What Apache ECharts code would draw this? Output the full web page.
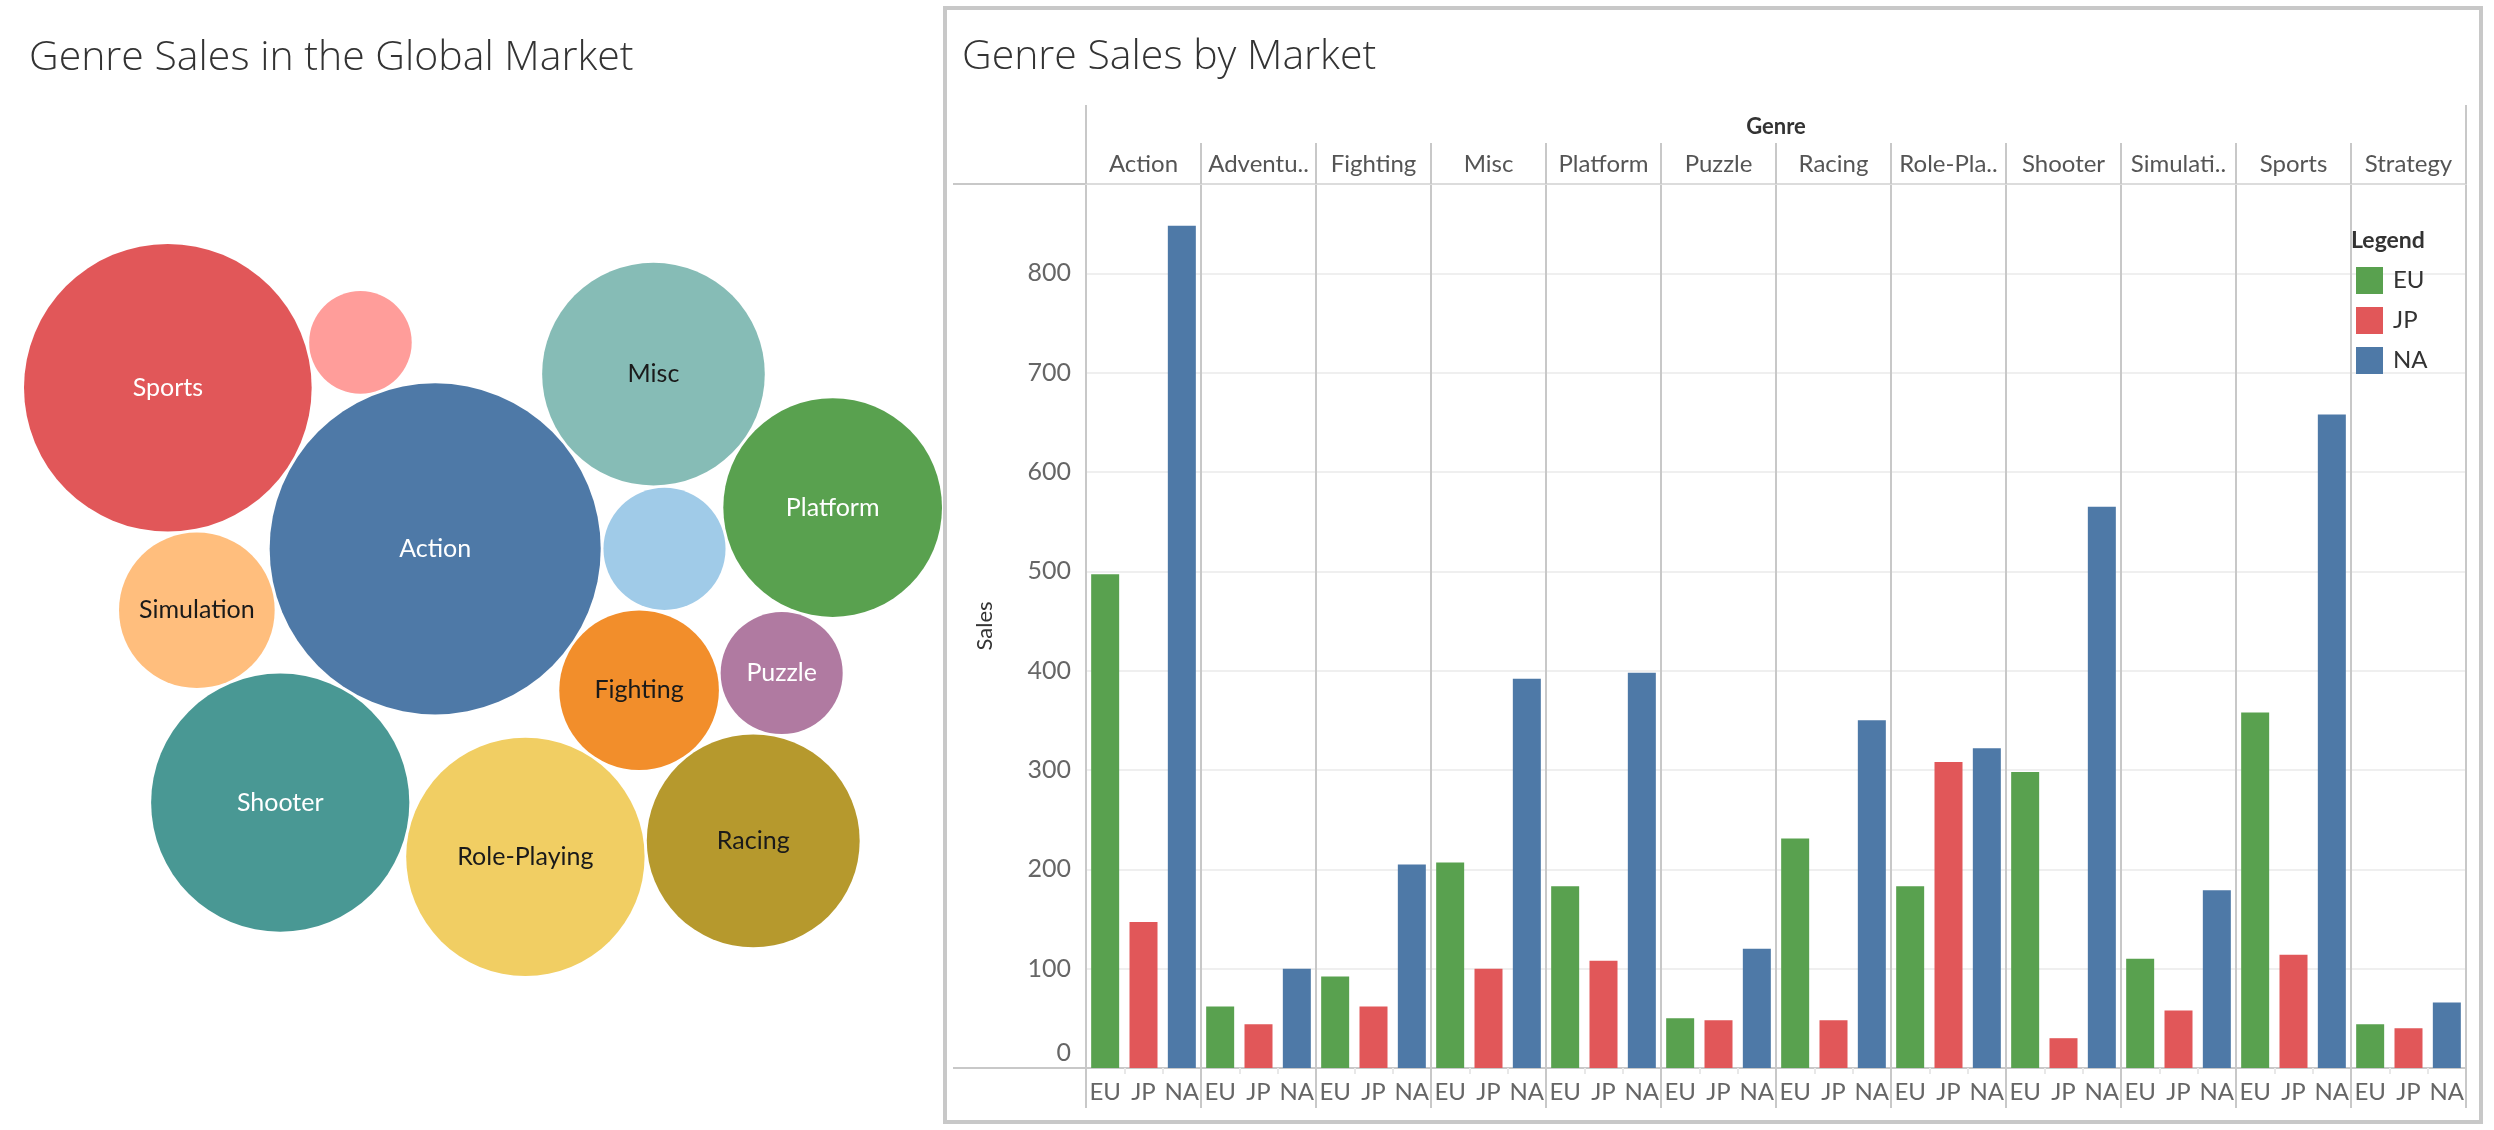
<!DOCTYPE html>
<html>
<head>
<meta charset="utf-8">
<script src="https://cdn.jsdelivr.net/npm/echarts@6/dist/echarts.min.js"></script>
<style>
html,body{margin:0;padding:0;background:#fff;}
#chart{width:2494px;height:1130px;}
</style>
</head>
<body>
<div id="chart"></div>
<script>
// ---------------- data ----------------
const genres = ['Action','Adventure','Fighting','Misc','Platform','Puzzle','Racing','Role-Playing','Shooter','Simulation','Sports','Strategy'];
const markets = ['EU','JP','NA'];
const euSales = [497, 62, 92, 207, 183, 50, 231, 183, 298, 110, 358, 44];
const jpSales = [147, 44, 62, 100, 108, 48, 48, 308, 30, 58, 114, 40];
const naSales = [848, 100, 205, 392, 398, 120, 350, 322, 565, 179, 658, 66];
const globalSales = [1751, 238, 407, 792, 764, 238, 724, 908, 1065, 387, 1322, 168];
const salesAxisMax = 890;
const salesAxisStep = 100;

// ---------------- styles ----------------
const FONT = 'Lato, "Open Sans", sans-serif';
const TITLE_FONT = '"Open Sans", Lato, sans-serif';
const genreColors = {
  'Action':'#4E79A7','Adventure':'#A0CBE8','Fighting':'#F28E2B','Misc':'#86BCB6',
  'Platform':'#59A14F','Puzzle':'#B07AA1','Racing':'#B6992D','Role-Playing':'#F1CE63',
  'Shooter':'#499894','Simulation':'#FFBE7D','Sports':'#E15759','Strategy':'#FF9D9A'
};
const genreLabelColors = {
  'Action':'#ffffff','Adventure':'#1a1a1a','Fighting':'#1a1a1a','Misc':'#1a1a1a',
  'Platform':'#ffffff','Puzzle':'#ffffff','Racing':'#1a1a1a','Role-Playing':'#1a1a1a',
  'Shooter':'#ffffff','Simulation':'#1a1a1a','Sports':'#ffffff','Strategy':'#1a1a1a'
};
const marketColors = {EU:'#59A14F', JP:'#E15759', NA:'#4E79A7'};
const sepColor = '#c8c8c8';

// layout constants (px)
const gridLeft = 1086, gridRight = 2466, gridTop = 184, gridBottom = 1068;
const bubbleBox = {cx: 483, cy: 610, w: 918, h: 738};

// ---------------- packed bubble layout (front-chain spiral packing, data order) ----------------
function place(b, a, c) {
  const dx = b.x - a.x, dy = b.y - a.y, d2 = dx * dx + dy * dy;
  if (d2) {
    let a2 = a.r + c.r; a2 *= a2;
    let b2 = b.r + c.r; b2 *= b2;
    if (a2 > b2) {
      const x = (d2 + b2 - a2) / (2 * d2);
      const y = Math.sqrt(Math.max(0, b2 / d2 - x * x));
      c.x = b.x - x * dx - y * dy;
      c.y = b.y - x * dy + y * dx;
    } else {
      const x = (d2 + a2 - b2) / (2 * d2);
      const y = Math.sqrt(Math.max(0, a2 / d2 - x * x));
      c.x = a.x + x * dx - y * dy;
      c.y = a.y + x * dy + y * dx;
    }
  } else {
    c.x = a.x + c.r; c.y = a.y;
  }
}
function intersects(a, b) {
  const dr = a.r + b.r - 1e-6, dx = b.x - a.x, dy = b.y - a.y;
  return dr > 0 && dr * dr > dx * dx + dy * dy;
}
function Node(circle) { this._ = circle; this.next = null; this.previous = null; }
function packSpiral(circles) {
  const n = circles.length;
  if (!n) return;
  let a = circles[0], b, c, i, j, k, sj, sk;
  a.x = 0; a.y = 0;
  if (n < 2) return;
  b = circles[1]; a.x = -b.r; b.x = a.r; b.y = 0;
  if (n < 3) return;
  place(b, a, c = circles[2]);
  a = new Node(a); b = new Node(b); c = new Node(c);
  a.next = c.previous = b;
  b.next = a.previous = c;
  c.next = b.previous = a;
  pack: for (i = 3; i < n; ++i) {
    place(a._, b._, c = circles[i]); c = new Node(c);
    j = b.next; k = a.previous; sj = b._.r; sk = a._.r;
    do {
      if (sj <= sk) {
        if (intersects(j._, c._)) { b = j; a.next = b; b.previous = a; --i; continue pack; }
        sj += j._.r; j = j.next;
      } else {
        if (intersects(k._, c._)) { a = k; a.next = b; b.previous = a; --i; continue pack; }
        sk += k._.r; k = k.previous;
      }
    } while (j !== k.next);
    // insert between a and b, then continue the spiral from the new circle
    c.previous = a; c.next = b; a.next = c; b.previous = c;
    a = c; b = c.next;
  }
}

const padUnit = 0.35;
const packCircles = globalSales.map(v => ({r: Math.sqrt(v) + padUnit, x: 0, y: 0}));
packSpiral(packCircles);
let bx0 = Infinity, bx1 = -Infinity, by0 = Infinity, by1 = -Infinity;
packCircles.forEach(p => {
  const r = p.r - padUnit;
  bx0 = Math.min(bx0, p.x - r); bx1 = Math.max(bx1, p.x + r);
  by0 = Math.min(by0, p.y - r); by1 = Math.max(by1, p.y + r);
});
const bubbleScale = Math.min(bubbleBox.w / (bx1 - bx0), bubbleBox.h / (by1 - by0));
const bcx = (bx0 + bx1) / 2, bcy = (by0 + by1) / 2;

// does the label fit inside the bubble?
const measureCtx = document.createElement('canvas').getContext('2d');
const bubbleFontSize = 25;
measureCtx.font = bubbleFontSize + 'px ' + FONT;
function labelFits(name, r) { return measureCtx.measureText(name).width < 2 * r * 0.8; }

const bubbleData = genres.map((g, i) => {
  const r = bubbleScale * Math.sqrt(globalSales[i]);
  return {
    name: g,
    value: [bubbleBox.cx + bubbleScale * (packCircles[i].x - bcx),
            bubbleBox.cy + bubbleScale * (packCircles[i].y - bcy),
            globalSales[i]],
    itemStyle: {color: genreColors[g], opacity: 1},
    label: {show: labelFits(g, r), color: genreLabelColors[g]}
  };
});

// ---------------- bar data ----------------
const barCats = [];
genres.forEach(g => markets.forEach(m => barCats.push(g + '|' + m)));
function marketSeriesData(values, mi) {
  const out = [];
  genres.forEach((g, gi) => markets.forEach((m, k) => out.push(k === mi ? values[gi] : '-')));
  return out;
}

const chart = echarts.init(document.getElementById('chart'));
const option = {
  backgroundColor: '#ffffff',
  animation: false,
  textStyle: {fontFamily: FONT},
  title: [
    {text: 'Genre Sales in the Global Market', left: 29, top: 38, padding: 0,
     textStyle: {fontSize: 41, fontWeight: 300, color: '#333', fontFamily: TITLE_FONT}},
    {text: 'Genre Sales by Market', left: 962, top: 37, padding: 0,
     textStyle: {fontSize: 41, fontWeight: 300, color: '#333', fontFamily: TITLE_FONT}},
    {text: 'Legend', left: 2351, top: 229, padding: 0,
     textStyle: {fontSize: 23, fontWeight: 'bold', color: '#333', fontFamily: FONT}}
  ],
  legend: {
    data: markets, orient: 'vertical', left: 2356, top: 267, padding: 0,
    itemWidth: 27, itemHeight: 27, itemGap: 13, icon: 'rect',
    textStyle: {fontSize: 24, color: '#333', fontFamily: FONT, padding: [0, 0, 0, 5]}
  },
  grid: [
    {left: gridLeft, right: 2494 - gridRight, top: gridTop, bottom: 1130 - gridBottom, containLabel: false},
    {left: 0, top: 0, width: 943, height: 1130, containLabel: false}
  ],
  xAxis: [
    { // markets
      type: 'category', gridIndex: 0, position: 'bottom', data: barCats,
      axisLine: {show: true, lineStyle: {color: sepColor, width: 2}},
      axisTick: {show: true, length: 6, lineStyle: {color: '#e8e8e8', width: 2}},
      axisLabel: {interval: 0, fontSize: 24, color: '#666', margin: 12, fontFamily: FONT,
                  formatter: v => v.split('|')[1]},
      splitLine: {show: false}
    },
    { // genre headers
      type: 'category', gridIndex: 0, position: 'top', data: genres,
      axisLine: {show: true, lineStyle: {color: '#dcdcdc', width: 2}},
      axisTick: {show: true, length: 41, lineStyle: {color: sepColor, width: 2}},
      axisLabel: {interval: 0, fontSize: 24, color: '#555', margin: 8, fontFamily: FONT,
                  width: 104, overflow: 'truncate', ellipsis: '..'},
      splitLine: {show: false}
    },
    { // pane separators below & inside
      type: 'category', gridIndex: 0, position: 'bottom', data: genres,
      axisLine: {show: false},
      axisTick: {show: true, length: 40, lineStyle: {color: sepColor, width: 2}},
      axisLabel: {show: false},
      splitLine: {show: true, lineStyle: {color: sepColor, width: 2}}
    },
    { // "Genre" header
      type: 'category', gridIndex: 0, position: 'top', data: ['Genre'],
      axisLine: {show: false},
      axisTick: {show: true, length: 79, lineStyle: {color: sepColor, width: 2}},
      axisLabel: {interval: 0, fontSize: 22, fontWeight: 'bold', color: '#333', margin: 46, fontFamily: FONT},
      splitLine: {show: false}
    },
    { // bubble canvas
      type: 'value', gridIndex: 1, min: 0, max: 943, show: false
    }
  ],
  yAxis: [
    {
      type: 'value', gridIndex: 0, min: 0, max: salesAxisMax, interval: salesAxisStep,
      name: 'Sales', nameLocation: 'middle', nameGap: 90,
      nameTextStyle: {fontSize: 22, color: '#333', fontFamily: FONT},
      axisLine: {show: true, lineStyle: {color: sepColor, width: 2}},
      axisTick: {show: false},
      axisLabel: {fontSize: 25, color: '#666', margin: 15, showMaxLabel: false, fontFamily: FONT,
                  formatter: v => (v === 0 ? '{zero|0}' : String(v)),
                  rich: {zero: {fontSize: 25, color: '#666', fontFamily: FONT, padding: [0, 0, 30, 0]}}},
      splitLine: {show: true, lineStyle: {color: '#efefef', width: 2}}
    },
    {
      type: 'value', gridIndex: 1, min: 0, max: 1130, inverse: true, show: false
    }
  ],
  graphic: [
    {type: 'rect', z: 0, silent: true, shape: {x: 945, y: 8, width: 1536, height: 1114},
     style: {fill: 'none', stroke: sepColor, lineWidth: 4}},
    {type: 'line', silent: true, shape: {x1: 953, y1: gridTop, x2: gridLeft, y2: gridTop},
     style: {stroke: sepColor, lineWidth: 2}},
    {type: 'line', silent: true, shape: {x1: 953, y1: gridBottom, x2: gridLeft, y2: gridBottom},
     style: {stroke: sepColor, lineWidth: 2}}
  ],
  series: [
    ...markets.map((m, mi) => ({
      name: m, type: 'bar', xAxisIndex: 0, yAxisIndex: 0, stack: 'market',
      barWidth: 28, itemStyle: {color: marketColors[m]},
      data: marketSeriesData([euSales, jpSales, naSales][mi], mi)
    })),
    {
      name: 'Global', type: 'scatter', xAxisIndex: 4, yAxisIndex: 1,
      symbol: 'circle',
      symbolSize: val => 2 * bubbleScale * Math.sqrt(val[2]),
      label: {show: true, position: 'inside', formatter: '{b}', fontSize: bubbleFontSize, fontFamily: FONT},
      emphasis: {disabled: true},
      data: bubbleData
    }
  ]
};
chart.setOption(option);
</script>
</body>
</html>
